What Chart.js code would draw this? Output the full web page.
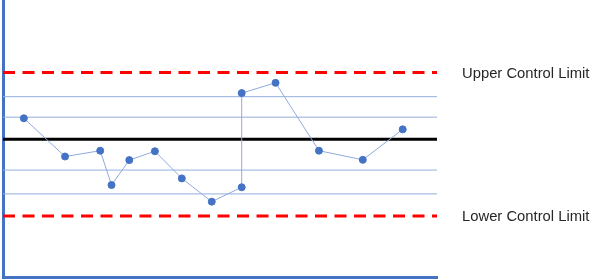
<!DOCTYPE html>
<html lang="en">
<head>
  <meta charset="UTF-8" />
  <title>Control Chart</title>
  <script src="https://cdn.jsdelivr.net/npm/chart.js"></script>
  <style>
    body {
      margin: 0;
      padding: 0;
      background: white;
    }
    #controlChart {
      display: block;
    }
  </style>
</head>
<body>
  <canvas id="controlChart" width="600" height="280"></canvas>

  <script>
    // sample positions (x) and measured values (y)
    const sampleX = [4.8, 14.3, 22.4, 25.0, 29.1, 35.0, 41.2, 48.1, 55.0, 55.0, 62.8, 72.8, 82.9, 92.1];
    const sampleY = [57.3, 43.5, 45.6, 33.2, 42.2, 45.4, 35.6, 27.2, 32.4, 66.4, 70.1, 45.6, 42.3, 53.3];

    // reference levels
    const centerLine = 49.7;
    const upperLimit = 73.8;
    const lowerLimit = 22.0;
    const zoneLines = [65.1, 57.7, 38.6, 30.0];
    const limitLabels = ['Upper Control Limit', 'Lower Control Limit'];

    const xMin = 0, xMax = 100;
    const flat = v => [{ x: xMin, y: v }, { x: xMax, y: v }];

    const points = sampleX.map((x, i) => ({ x, y: sampleY[i] }));

    const datasets = [
      {
        data: points,
        showLine: true,
        borderColor: '#8FAADC',
        borderWidth: 1,
        pointBackgroundColor: '#4472C4',
        pointBorderColor: '#4472C4',
        pointRadius: 3.5
      },
      { data: flat(centerLine), showLine: true, borderColor: '#000000', borderWidth: 3, pointRadius: 0 },
      { data: flat(upperLimit), showLine: true, borderColor: '#FF0000', borderWidth: 3, borderDash: [12, 7.5], pointRadius: 0 },
      { data: flat(lowerLimit), showLine: true, borderColor: '#FF0000', borderWidth: 3, borderDash: [12, 7.5], pointRadius: 0 }
    ];
    zoneLines.forEach(v => {
      datasets.push({ data: flat(v), showLine: true, borderColor: '#94AEDD', borderWidth: 1, pointRadius: 0 });
    });

    // text next to the control limits
    const limitText = {
      id: 'limitText',
      afterDraw(chart) {
        const c = chart.ctx;
        const y = chart.scales.y;
        c.save();
        c.fillStyle = '#262626';
        c.font = '14.8px "Liberation Sans", Arial, sans-serif';
        c.textBaseline = 'middle';
        c.fillText(limitLabels[0], 462, y.getPixelForValue(upperLimit) + 1);
        c.fillText(limitLabels[1], 462, y.getPixelForValue(lowerLimit) + 1);
        c.restore();
      }
    };

    new Chart(document.getElementById('controlChart').getContext('2d'), {
      type: 'scatter',
      data: { datasets },
      options: {
        responsive: false,
        animation: false,
        layout: { autoPadding: false, padding: { left: 0, right: 163, top: 0, bottom: 0 } },
        plugins: { legend: { display: false }, tooltip: { enabled: false } },
        scales: {
          x: {
            min: xMin, max: xMax,
            ticks: { display: false },
            grid: { display: false, drawTicks: false },
            border: { color: '#4472C4', width: 3 },
            afterFit: s => { s.height = 3; }
          },
          y: {
            min: 0, max: 100,
            ticks: { display: false },
            grid: { display: false, drawTicks: false },
            border: { color: '#4472C4', width: 3 },
            afterFit: s => { s.width = 3; }
          }
        }
      },
      plugins: [limitText]
    });
  </script>
</body>
</html>
